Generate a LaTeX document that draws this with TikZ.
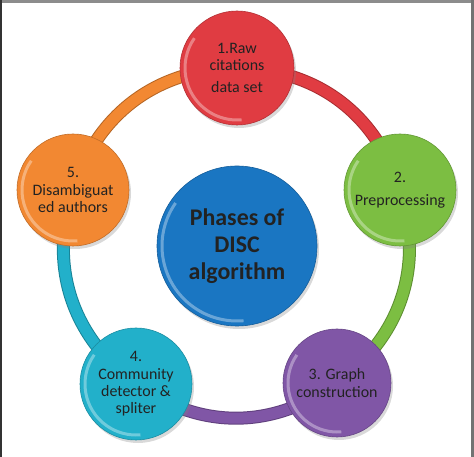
\documentclass[tikz,border=0pt]{standalone}
\usepackage{fontspec}
\setmainfont{Carlito}
\usetikzlibrary{calc,backgrounds,shadows}
\definecolor{discred}{RGB}{224,60,66}
\definecolor{discgreen}{RGB}{124,190,66}
\definecolor{discpurple}{RGB}{128,86,166}
\definecolor{disccyan}{RGB}{34,176,202}
\definecolor{discorange}{RGB}{242,136,50}
\definecolor{discblue}{RGB}{26,118,194}
\definecolor{textgrey}{RGB}{34,34,34}

\begin{document}
\begin{tikzpicture}[x=1bp, y=1bp,
    gloss/.style={path picture={
        \draw[white, opacity=0.35, line width=3bp]
          let \p1=(path picture bounding box.north east),
              \p2=(path picture bounding box.center),
              \n1={\x1-\x2-5bp} in
          (\p2) ++(145:\n1) arc[start angle=145, end angle=275, radius=\n1];}},
    phase/.style={circle, fill=#1, draw=#1!80!black, line width=0.6bp,
               minimum size=112bp, inner sep=0pt, align=center, text=textgrey,
               font=\fontsize{16}{17.5}\selectfont, gloss,
               drop shadow={opacity=0.3, shadow xshift=2bp, shadow yshift=-3bp}},
    hub/.style={phase=discblue, minimum size=160bp,
               font=\fontsize{24}{27}\selectfont\bfseries},
    band/.style={draw=#1!75!black, double=#1, double distance=11bp, line width=1bp}
]
    \useasboundingbox (0,0) rectangle (474,457);
    % frame
    \draw[black!45, line width=3bp] (0,455.5) -- (474,455.5);
    \draw[black!80, line width=2bp] (1,0) -- (1,457);
    \draw[black!55, line width=3bp] (472.5,0) -- (472.5,457);

    \node[hub] (phases) at (237,211) {Phases of\\DISC\\algorithm};

    \node[phase=discred, minimum size=114bp] (raw) at (237,389)
        {1.Raw\\citations\\[5bp]data set};
    \node[phase=discgreen] (prep) at (400,267)
        {2.\\[6bp]Preprocessing};
    \node[phase=discpurple, minimum size=108bp] (graph) at (337,74)
        {3. Graph\\construction};
    \node[phase=disccyan] (comm) at (136,73)
        {4.\\Community\\detector \&\\spliter};
    \node[phase=discorange] (disamb) at (73,267)
        {5.\\Disambiguat\\ed authors};

    % ring behind the phases
    \begin{scope}[on background layer]
        \draw[band=discred]    (raw.center)    to[bend left=36] (prep.center);
        \draw[band=discgreen]  (prep.center)   to[bend left=36] (graph.center);
        \draw[band=discpurple] (graph.center)  to[bend left=36] (comm.center);
        \draw[band=disccyan]   (comm.center)   to[bend left=36] (disamb.center);
        \draw[band=discorange] (disamb.center) to[bend left=36] (raw.center);
    \end{scope}
\end{tikzpicture}
\end{document}
